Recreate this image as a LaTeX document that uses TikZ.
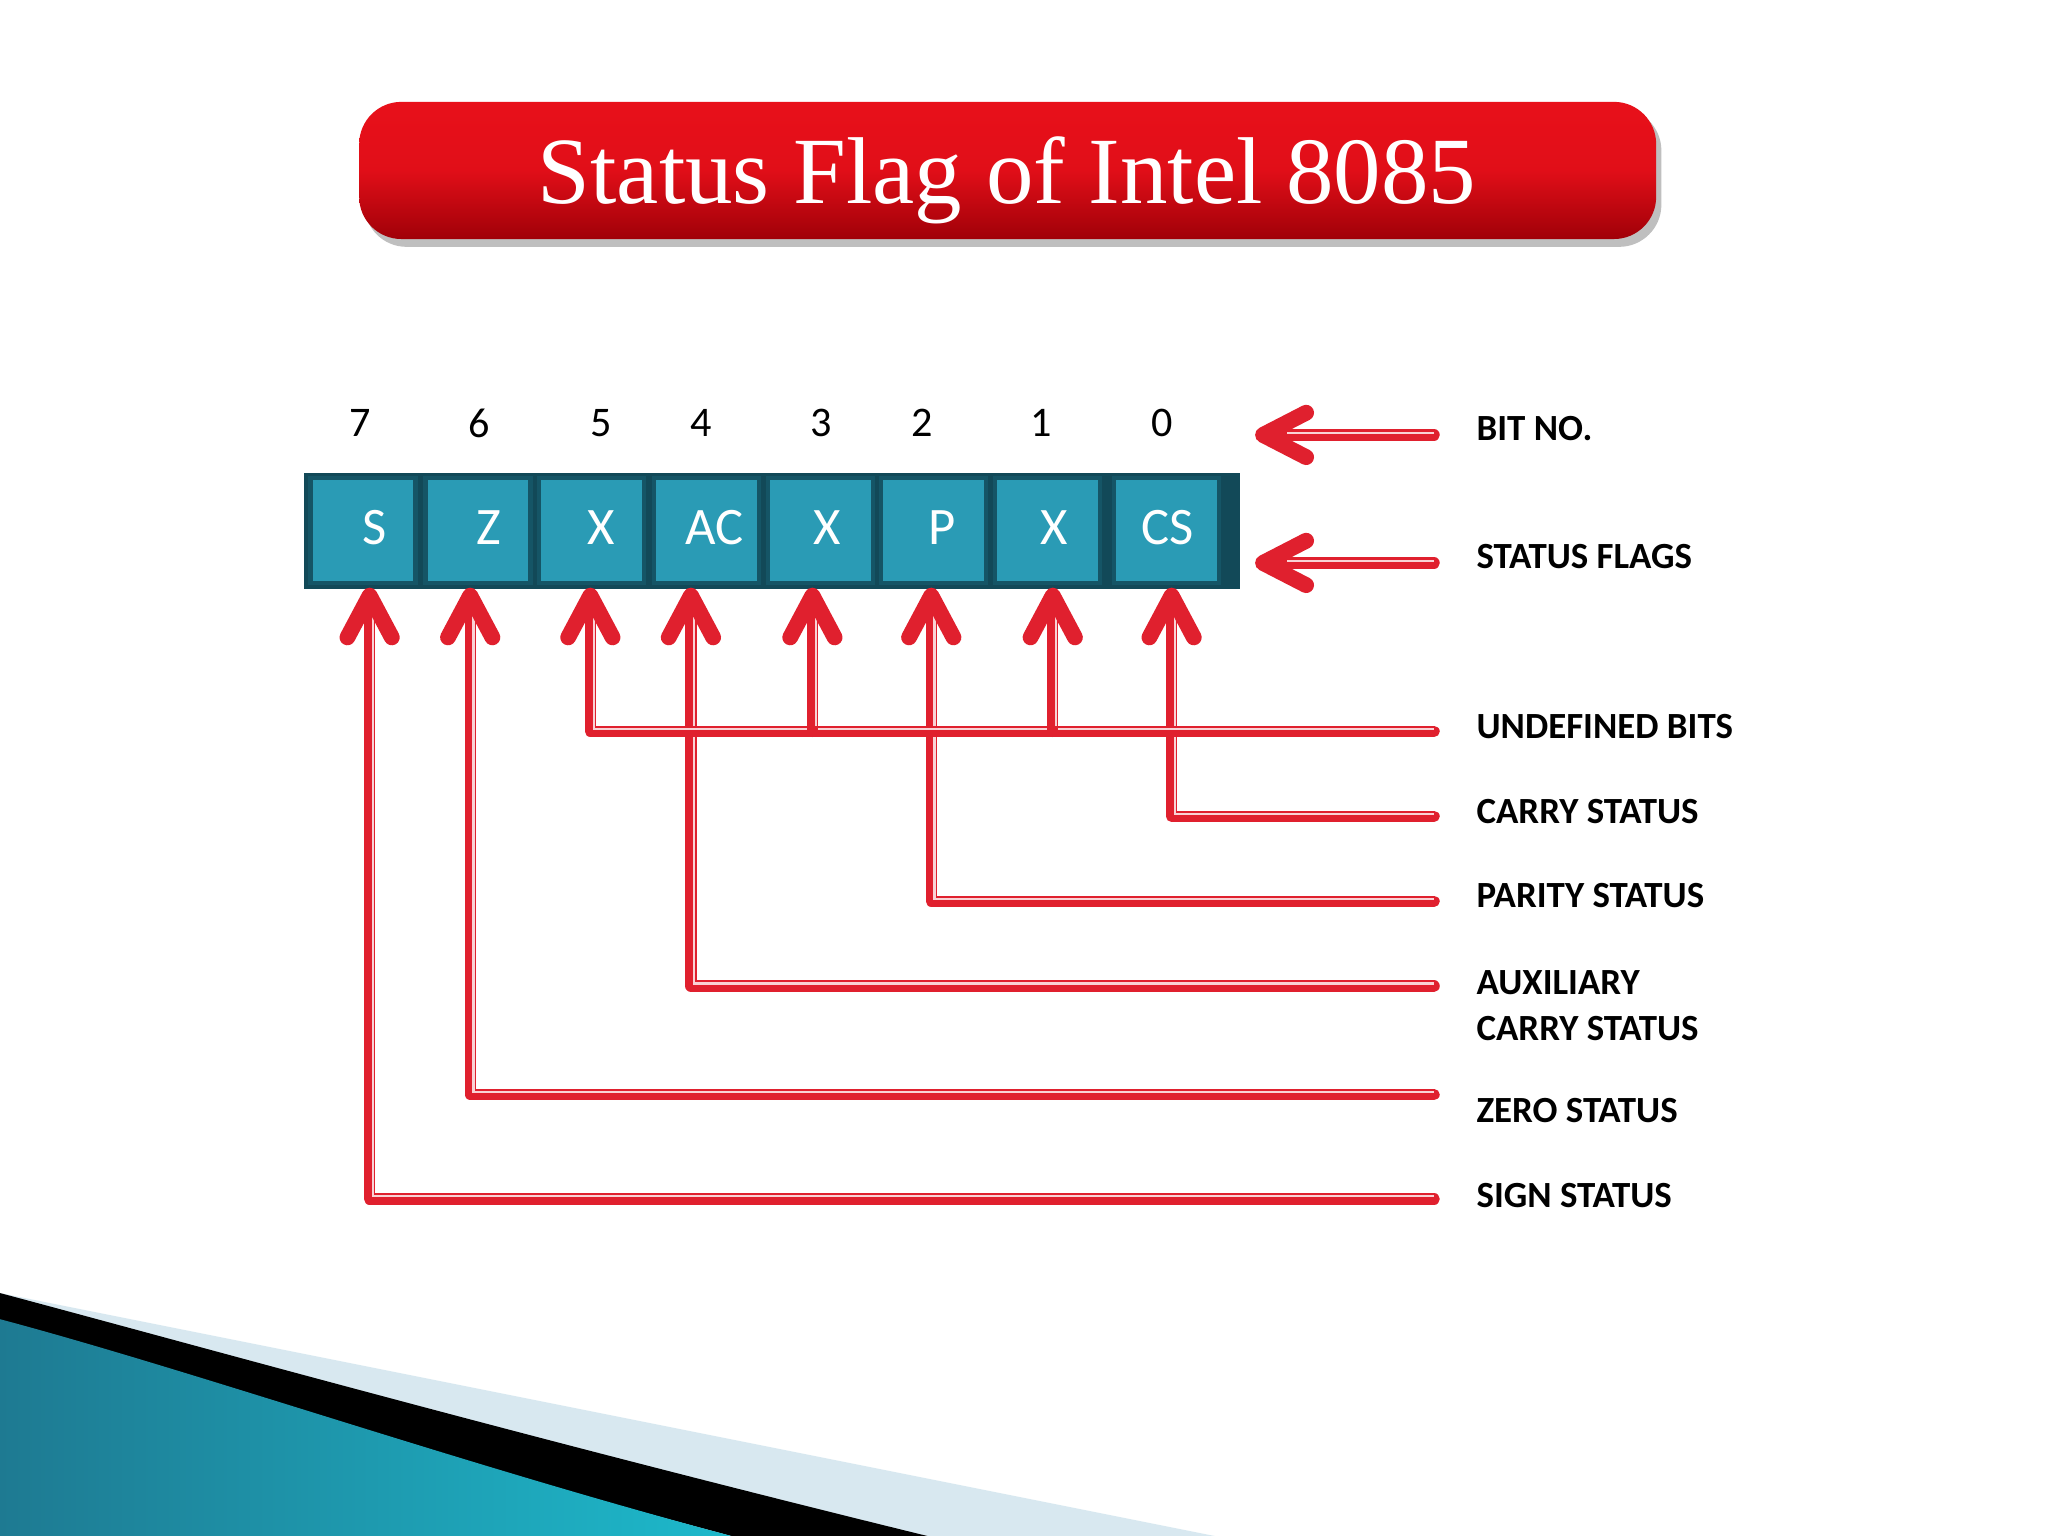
\documentclass[tikz,border=0pt]{standalone}
\usepackage{fontspec}
\setmainfont{Carlito}
\newfontfamily\titlefont{Liberation Serif}
\usetikzlibrary{shadows}
\definecolor{tred}{HTML}{E8101A}
\definecolor{dred}{HTML}{A00008}
\definecolor{teal1}{HTML}{2A9BB5}
\definecolor{teal2}{HTML}{1E7A92}
\definecolor{ared}{HTML}{E0202E}
\definecolor{pale}{HTML}{D8E8F0}
\tikzset{
  flag/.style={draw=teal2!70!black,line width=1.2pt,fill=teal1,minimum width=1.05cm,minimum height=1.05cm},
  lab/.style={anchor=west,font=\bfseries\fontsize{10.5}{13}\selectfont,align=left},
  bitno/.style={font=\fontsize{12}{12}\selectfont},
  redln/.style={ared,line width=3.2pt,line cap=round,line join=round},
  hiln/.style={white!80!ared,line width=0.6pt},
}
\begin{document}
\begin{tikzpicture}[x=0.01306cm,y=-0.01306cm]
\useasboundingbox (0,0) rectangle (1568,1176);
\fill[white] (0,0) rectangle (1568,1176);
% bottom decoration
\fill[pale] (0,990) -- (200,1030) -- (930,1176) -- (0,1176) -- cycle;
\fill[black] (0,990) .. controls (150,1030) and (400,1100) .. (710,1176) -- (560,1176) .. controls (350,1120) and (150,1060) .. (0,1025) -- cycle;
\shade[left color=teal2,right color=teal1!70!cyan] (0,1010) .. controls (150,1050) and (350,1120) .. (560,1176) -- (0,1176) -- cycle;
% title
\fill[black,opacity=0.25,rounded corners=12pt] (279,83) rectangle (1272,189);
\shade[rounded corners=12pt,top color=tred,bottom color=dred,middle color=tred!90!dred] (275,78) rectangle (1268,183);
\node[text=white,font=\titlefont\fontsize{27}{30}\selectfont] (title) at (771,138) {Status Flag of Intel 8085};
% register
\fill[teal2!60!black] (233,362) rectangle (949,451);
\foreach \n/\x/\t/\lx in {s/278/S/287,z/366/Z/374,x5/453/X/460,ac/541/AC/547,x3/628/X/633,p/715/P/721,x1/802/X/807,cs/893/CS/894}{
  \node[flag] (\n) at (\x,406) {};
  \node[text=white,font=\fontsize{15}{15}\selectfont] at (\lx,404) {\t};
}
\foreach \x/\t in {276/7,367/6,460/5,537/4,629/3,706/2,797/1,890/0}
  \node[bitno] at (\x,324) {\t};
% left arrows
\foreach \y/\t/\ly in {333/BIT NO./328,431/STATUS FLAGS/426}{
  \coordinate (ta) at (967,\y); \coordinate (tb) at (1098,\y);
  \draw[redln] (tb) -- (ta);
  \draw[hiln] (1098,\y-1.5) -- (985,\y-1.5);
  \draw[redln,line width=4.5pt] (1000,\y-17) -- (ta) -- (1000,\y+17);
  \node[lab] at (1121,\ly) {\t};
}
% routes
\newcommand\route[3]{%
  \draw[redln] (#1,458) -- (#1,#2) -- (1098,#2);
  \draw[hiln] (#1+2.5,470) -- (#1+2.5,#2-2) -- (1098,#2-2);
}
\route{283}{918}{}
\route{360}{838}{}
\route{529}{755}{}
\route{713}{690}{}
\route{897}{625}{}
\route{452}{560}{}
\foreach \x in {622,806}{
  \draw[redln] (\x,458) -- (\x,560);
  \draw[hiln] (\x+2.5,470) -- (\x+2.5,556);
}
\foreach \x in {283,360,452,529,622,713,806,897}
  \draw[redln,line width=4.5pt] (\x-17,488) -- (\x,456) -- (\x+17,488);
\node[lab] at (1121,556) {UNDEFINED BITS};
\node[lab] at (1121,621) {CARRY STATUS};
\node[lab] at (1121,686) {PARITY STATUS};
\node[lab] at (1121,770) {AUXILIARY\\CARRY STATUS};
\node[lab] at (1121,850) {ZERO STATUS};
\node[lab] at (1121,915) {SIGN STATUS};
\end{tikzpicture}
\end{document}
